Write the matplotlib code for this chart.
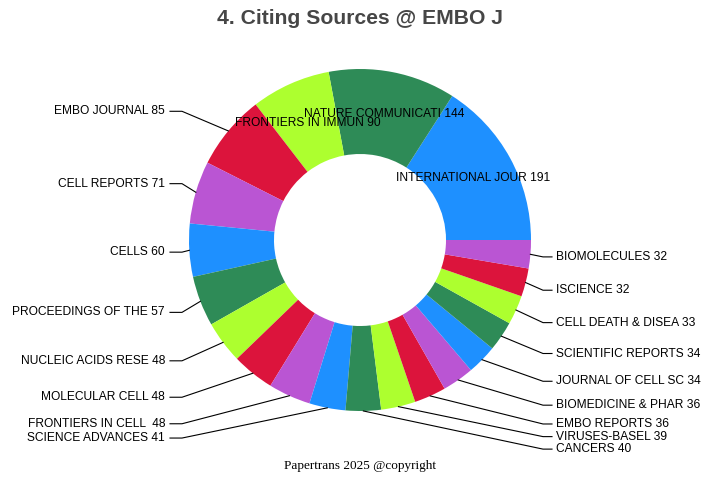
import numpy as np
import matplotlib.pyplot as plt

plt.rcParams['font.family'] = ['Liberation Sans', 'DejaVu Sans']

# citing journals and their citation counts, largest first
sources = ["INTERNATIONAL JOUR", "NATURE COMMUNICATI", "FRONTIERS IN IMMUN",
           "EMBO JOURNAL", "CELL REPORTS", "CELLS", "PROCEEDINGS OF THE",
           "NUCLEIC ACIDS RESE", "MOLECULAR CELL", "FRONTIERS IN CELL ",
           "SCIENCE ADVANCES", "CANCERS", "VIRUSES-BASEL", "EMBO REPORTS",
           "BIOMEDICINE & PHAR", "JOURNAL OF CELL SC", "SCIENTIFIC REPORTS",
           "CELL DEATH & DISEA", "ISCIENCE", "BIOMOLECULES"]
counts = [191, 144, 90, 85, 71, 60, 57, 48, 48, 48, 41, 40, 39, 36, 36,
          34, 34, 33, 32, 32]
palette = ["#1E90FF", "#2E8B57", "#ADFF2F", "#DC143C", "#BA55D3"]

W, H = 720, 480
cx, cy = 360, 240
R, r_in = 171, 86

fig = plt.figure(figsize=(7.2, 4.8), dpi=100)
ax = fig.add_axes([0, 0, 1, 1])
colors = [palette[i % len(palette)] for i in range(len(counts))]
wedges, _ = ax.pie(counts, colors=colors, radius=R, center=(cx, cy),
                   startangle=0, counterclock=True,
                   wedgeprops=dict(width=R - r_in, edgecolor='none'))
ax.set_xlim(0, W)
ax.set_ylim(0, H)
ax.set_aspect('equal')
ax.axis('off')

total = sum(counts)
fs = 8.64
right, left = [], []
for w, name, c in zip(wedges, sources, counts):
    mid = np.deg2rad((w.theta1 + w.theta2) / 2)
    label = f"{name} {c}"
    # big slices get their label on the ring
    if c / total >= 0.073:
        rm = (R + r_in) / 2
        ax.text(cx + rm * np.cos(mid), cy + rm * np.sin(mid), label,
                ha='center', va='center', fontsize=fs, color='black')
        continue
    ex, ey = cx + R * np.cos(mid), cy + R * np.sin(mid)
    ly = cy + 1.18 * R * np.sin(mid)
    (right if np.cos(mid) > 0 else left).append([ly, ex, ey, label])

# push labels apart so they don't overlap
gap = 12.5
for side in (right, left):
    side.sort(key=lambda t: -t[0])
    for i in range(1, len(side)):
        side[i][0] = min(side[i][0], side[i - 1][0] - gap)

for ly, ex, ey, label in right:
    ax.plot([ex, 543, 552], [ey, ly, ly], color='black', lw=0.8)
    ax.text(556, ly, label, ha='left', va='center', fontsize=fs)
for ly, ex, ey, label in left:
    ax.plot([ex, 182, 170], [ey, ly, ly], color='black', lw=0.8)
    ax.text(165, ly, label, ha='right', va='center', fontsize=fs)

fig.text(0.5, 462 / H, "4. Citing Sources @ EMBO J", ha='center', va='center',
         fontsize=15.2, fontweight='bold', color='#464646')
fig.text(0.5, 14 / H, "Papertrans 2025 @copyright", ha='center', va='center',
         fontsize=9.5, family='Liberation Serif', color='black')

fig.savefig('out.png', dpi=100)
